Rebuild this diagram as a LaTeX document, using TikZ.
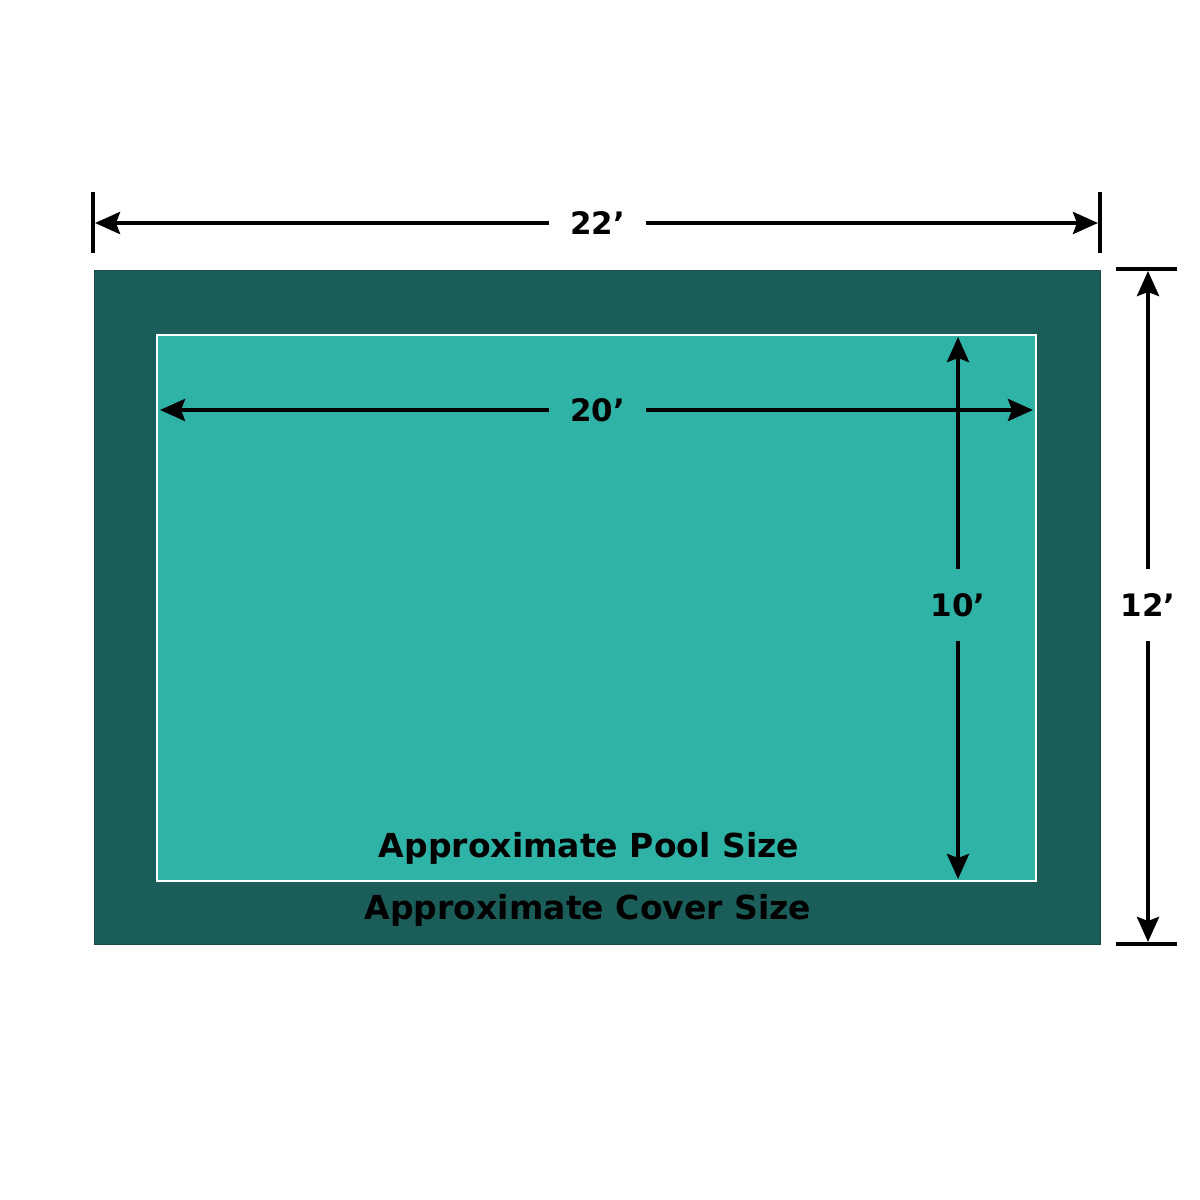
\documentclass[tikz,border=0pt]{standalone}
\usepackage{fontspec}
\setmainfont{DejaVu Sans}
\usetikzlibrary{arrows.meta}
\definecolor{coverc}{HTML}{1B5E59}
\definecolor{poolc}{HTML}{30B3A7}
\tikzset{
  dimline/.style={line width=1.15pt, draw=black, -{Stealth[length=0.25cm,width=0.22cm,inset=0.04cm]}},
  tickline/.style={line width=1.15pt, draw=black},
  hlab/.style={font=\fontsize{8.8}{10}\selectfont\bfseries, inner sep=0pt, minimum width=0.95cm, minimum height=0.3cm},
  vlab/.style={font=\fontsize{8.8}{10}\selectfont\bfseries, inner sep=0pt, minimum height=0.70cm, minimum width=0.5cm},
  biglab/.style={font=\fontsize{9.4}{11}\selectfont\bfseries, inner sep=0pt}
}
\begin{document}
\begin{tikzpicture}[x=0.01cm,y=-0.01cm]
\useasboundingbox[fill=white] (0,0) rectangle (1200,1200);
% cover and pool
\node[draw=coverc!80!black, line width=0.3pt, fill=coverc, inner sep=0pt, minimum width=10.05cm, minimum height=6.73cm] (cover) at (597.5,607.5) {};
\node[draw=white, line width=0.6pt, fill=poolc, inner sep=0pt, minimum width=8.79cm, minimum height=5.46cm] (pool) at (596.5,608) {};
% top dimension 22'
\coordinate (tTa) at (93,192); \coordinate (tTb) at (93,253);
\coordinate (tUa) at (1100,192); \coordinate (tUb) at (1100,253);
\draw[tickline] (tTa) -- (tTb);
\draw[tickline] (tUa) -- (tUb);
\coordinate (aL) at (95,223); \coordinate (aR) at (1098,223);
\node[hlab] (t22) at (597.5,223) {22’};
\draw[dimline] (t22.west) -- (aL);
\draw[dimline] (t22.east) -- (aR);
% right dimension 12'
\coordinate (rTa) at (1116,269); \coordinate (rTb) at (1177,269);
\coordinate (rBa) at (1116,944); \coordinate (rBb) at (1177,944);
\draw[tickline] (rTa) -- (rTb);
\draw[tickline] (rBa) -- (rBb);
\coordinate (bT) at (1148,271); \coordinate (bB) at (1148,942);
\node[vlab] (t12) at (1148,605) {12’};
\draw[dimline] (t12.north) -- (bT);
\draw[dimline] (t12.south) -- (bB);
% inner 20'
\coordinate (cL) at (160,410); \coordinate (cR) at (1033,410);
\node[hlab] (t20) at (597.5,410) {20’};
\draw[dimline] (t20.west) -- (cL);
\draw[dimline] (t20.east) -- (cR);
% inner 10'
\coordinate (dT) at (958,337); \coordinate (dB) at (958,879);
\node[vlab] (t10) at (958,605) {10’};
\draw[dimline] (t10.north) -- (dT);
\draw[dimline] (t10.south) -- (dB);
% labels
\node[biglab] (lpool) at (589,848) {Approximate Pool Size};
\node[biglab] (lcover) at (588,910) {Approximate Cover Size};
\end{tikzpicture}
\end{document}
